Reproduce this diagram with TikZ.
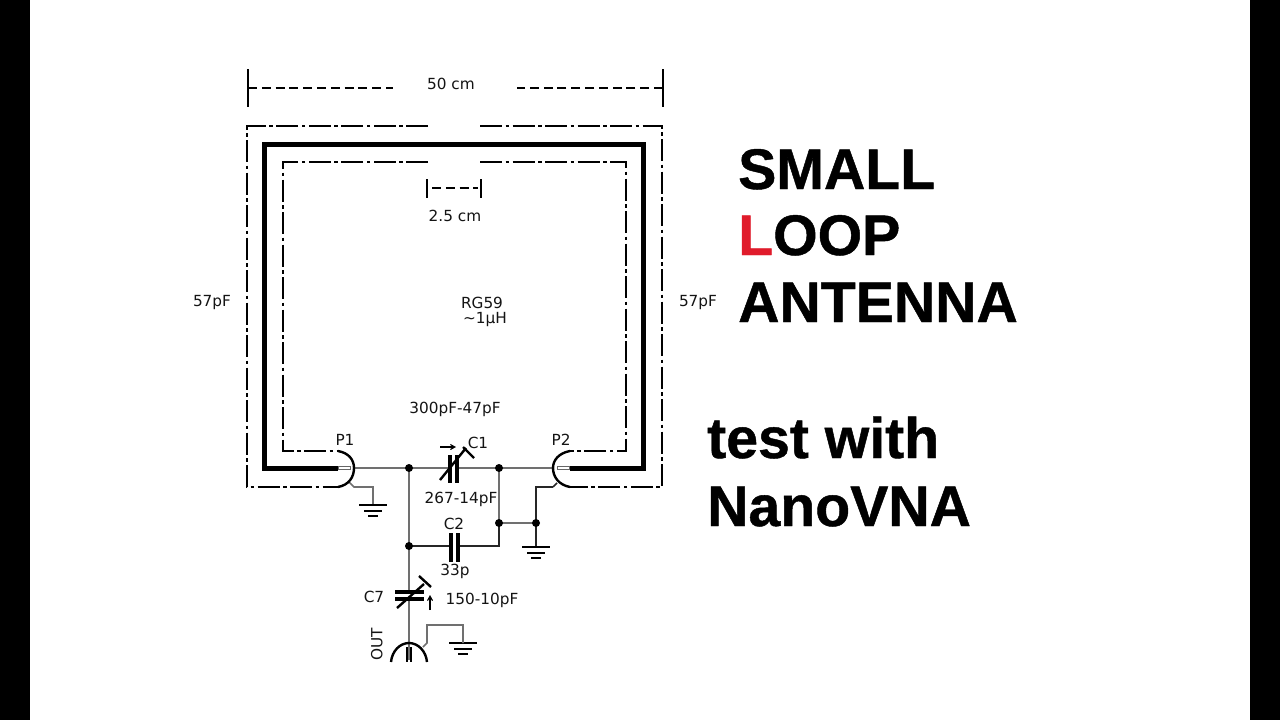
\documentclass[tikz,border=0pt]{standalone}
\usepackage{fontspec}
\setmainfont{DejaVu Sans}
\newfontfamily\bigfont[BoldFeatures={FakeBold=0.8}]{Liberation Sans}
\usetikzlibrary{arrows.meta}
\definecolor{wiregray}{HTML}{707070}
\definecolor{loopred}{HTML}{E01B2B}
\tikzset{
  wire/.style={draw=wiregray,line width=1.6pt},
  blackwire/.style={draw=black!85,line width=1.6pt},
  shield/.style={draw=black,line width=2.9pt,dash pattern=on 22pt off 3.5pt on 3.5pt off 3.5pt},
  core/.style={draw=black,line width=5pt,line join=miter},
  dimline/.style={draw=black,line width=2.4pt,dash pattern=on 9pt off 4.8pt},
  tick/.style={draw=black,line width=2.4pt},
  plate/.style={draw=black,line width=4pt},
  trim/.style={draw=black,line width=2.4pt},
  thinarrow/.style={draw=black,line width=1.1pt,-{Straight Barb[length=4.5pt,width=5pt]}},
  dot/.style={circle,fill=black,inner sep=0pt,minimum size=8pt},
  lbl/.style={font=\fontsize{15.3}{17}\selectfont,text=black!92,inner sep=0pt,yshift=-1.2pt},
  title/.style={font=\bigfont\bfseries\fontsize{57.2}{60}\selectfont,anchor=base west,inner sep=0pt,text=black},
  conn/.style={draw=black,line width=2.4pt},
  slot/.style={draw=black!60,fill=white,line width=0.7pt},
  gndbar/.style={draw=black,line width=2.2pt}
}
\newcommand{\gnd}[2]{%
  \draw[gndbar] (#1-14,#2) -- (#1+14,#2);
  \draw[gndbar] (#1-9,#2+6) -- (#1+9,#2+6);
  \draw[gndbar] (#1-5,#2+11) -- (#1+5,#2+11);
}
\begin{document}
\begin{tikzpicture}[x=1pt,y=-1pt]
\useasboundingbox (0,0) rectangle (1280,720);
\fill[white] (0,0) rectangle (1280,720);
\fill[black] (0,0) rectangle (30,720);
\fill[black] (1250,0) rectangle (1280,720);

% named points
\coordinate (J1) at (409,468);
\coordinate (J2) at (499,468);
\coordinate (J3) at (499,523);
\coordinate (J4) at (536,523);
\coordinate (J5) at (409,546);
\coordinate (P1tip) at (354,468);
\coordinate (P2tip) at (553,468);
\coordinate (C1a) at (450,468);
\coordinate (C1b) at (457,468);
\coordinate (C2a) at (451,546);
\coordinate (C2b) at (458,546);
\coordinate (G1) at (373,505);
\coordinate (G2) at (536,547);
\coordinate (G3) at (463,643);

% dimensions
\draw[tick] (248,69) -- (248,107);
\draw[tick] (663,69) -- (663,107);
\draw[dimline] (248,88) -- (393,88);
\draw[dimline] (663,88) -- (517,88);
\draw[tick] (427,179) -- (427,198);
\draw[tick] (481,179) -- (481,198);
\draw[dimline] (432,188) -- (478,188);

% outer shield
\draw[shield] (428,126) -- (247,126) -- (247,487) -- (338,487);
\draw[shield] (480,126) -- (662,126) -- (662,487) -- (570,487);
% inner shield
\draw[shield] (428,162) -- (283,162) -- (283,451) -- (338,451);
\draw[shield] (480,162) -- (626,162) -- (626,451) -- (570,451);
% core
\draw[core] (338,468) -- (264,468) -- (264,144) -- (643,144) -- (643,468) -- (570,468);

% wires
\draw[wire] (P1tip) -- (C1a);
\draw[wire] (C1b) -- (P2tip);
\draw[wire] (J1) -- (J5) -- (409,590);
\draw[wire] (409,600) -- (409,660);
\draw[wire] (J2) -- (J3);
\draw[blackwire] (J3) -- (499,546) -- (C2b);
\draw[blackwire] (J5) -- (C2a);
\draw[wire] (J3) -- (J4);
\draw[blackwire] (553,487) -- (536,487) -- (G2);
\draw[blackwire] (553,487) -- (557,483);
\draw[wire] (349,482) -- (354,487) -- (373,487) -- (G1);

% connectors
\draw[conn] (338,451) .. controls (349,453) and (354,460) .. (P1tip) .. controls (354,477) and (349,485) .. (338,487);
\draw[conn] (570,451) .. controls (559,453) and (553,460) .. (P2tip) .. controls (553,477) and (559,485) .. (570,487);
\draw[slot] (338,466.5) rectangle (350,469.5);
\draw[slot] (557,466.5) rectangle (569,469.5);

% junction dots
\node[dot] (d1) at (J1) {};
\node[dot] (d2) at (J2) {};
\node[dot] (d3) at (J3) {};
\node[dot] (d4) at (J4) {};
\node[dot] (d5) at (J5) {};

% C1
\draw[plate] (450,455) -- (450,483);
\draw[plate] (457,455) -- (457,483);
\draw[trim] (440,480) -- (466,448);
\draw[trim] (463,447) -- (474,458);
\draw[thinarrow] (440,447) -- (456,447);
% C2
\draw[plate] (451,533) -- (451,562);
\draw[plate] (458,533) -- (458,562);
% C7
\draw[plate] (395,592) -- (424,592);
\draw[plate] (395,599) -- (424,599);
\draw[trim] (397,608) -- (424,584);
\draw[trim] (419,576) -- (431,587);
\draw[thinarrow] (430,610) -- (430,595);

% grounds
\gnd{373}{505}
\gnd{536}{547}
\gnd{463}{643}

% OUT connector
\draw[conn] (391,662) .. controls (392,651) and (400,643) .. (409,643) .. controls (418,643) and (426,651) .. (427,662);
\draw[draw=black,line width=1.1pt] (407,647) -- (407,662);
\draw[draw=black,line width=1.1pt] (411,647) -- (411,662);
\draw[wire] (423,647) -- (427,643) -- (427,625) -- (463,625) -- (G3);

% labels
\node[lbl] (t50) at (451,83) {50 cm};
\node[lbl] (t25) at (455,215) {2.5 cm};
\node[lbl] (t57l) at (212,301) {57pF};
\node[lbl] (t57r) at (698,301) {57pF};
\node[lbl] (trg) at (482,302) {RG59};
\node[lbl] (tuh) at (485,318) {\char"007E 1µH};
\node[lbl] (t300) at (455,408) {300pF-47pF};
\node[lbl] (tP1) at (345,439) {P1};
\node[lbl] (tP2) at (561,439) {P2};
\node[lbl] (tC1) at (478,442) {C1};
\node[lbl] (t267) at (461,498) {267-14pF};
\node[lbl] (tC2) at (454,523) {C2};
\node[lbl] (t33) at (455,570) {33p};
\node[lbl] (tC7) at (374,596) {C7};
\node[lbl] (t150) at (482,599) {150-10pF};
\node[lbl,rotate=90,xshift=-0.2pt,yshift=1.2pt] (tOUT) at (378,643) {OUT};

% titles
\node[title] (small) at (738,189) {SMALL};
\node[title] (loop) at (738,255) {\textcolor{loopred}{L}OOP};
\node[title] (antenna) at (738,322) {ANTENNA};
\node[title] (test) at (707,458) {test with};
\node[title] (nano) at (707,526) {NanoVNA};
\end{tikzpicture}
\end{document}
